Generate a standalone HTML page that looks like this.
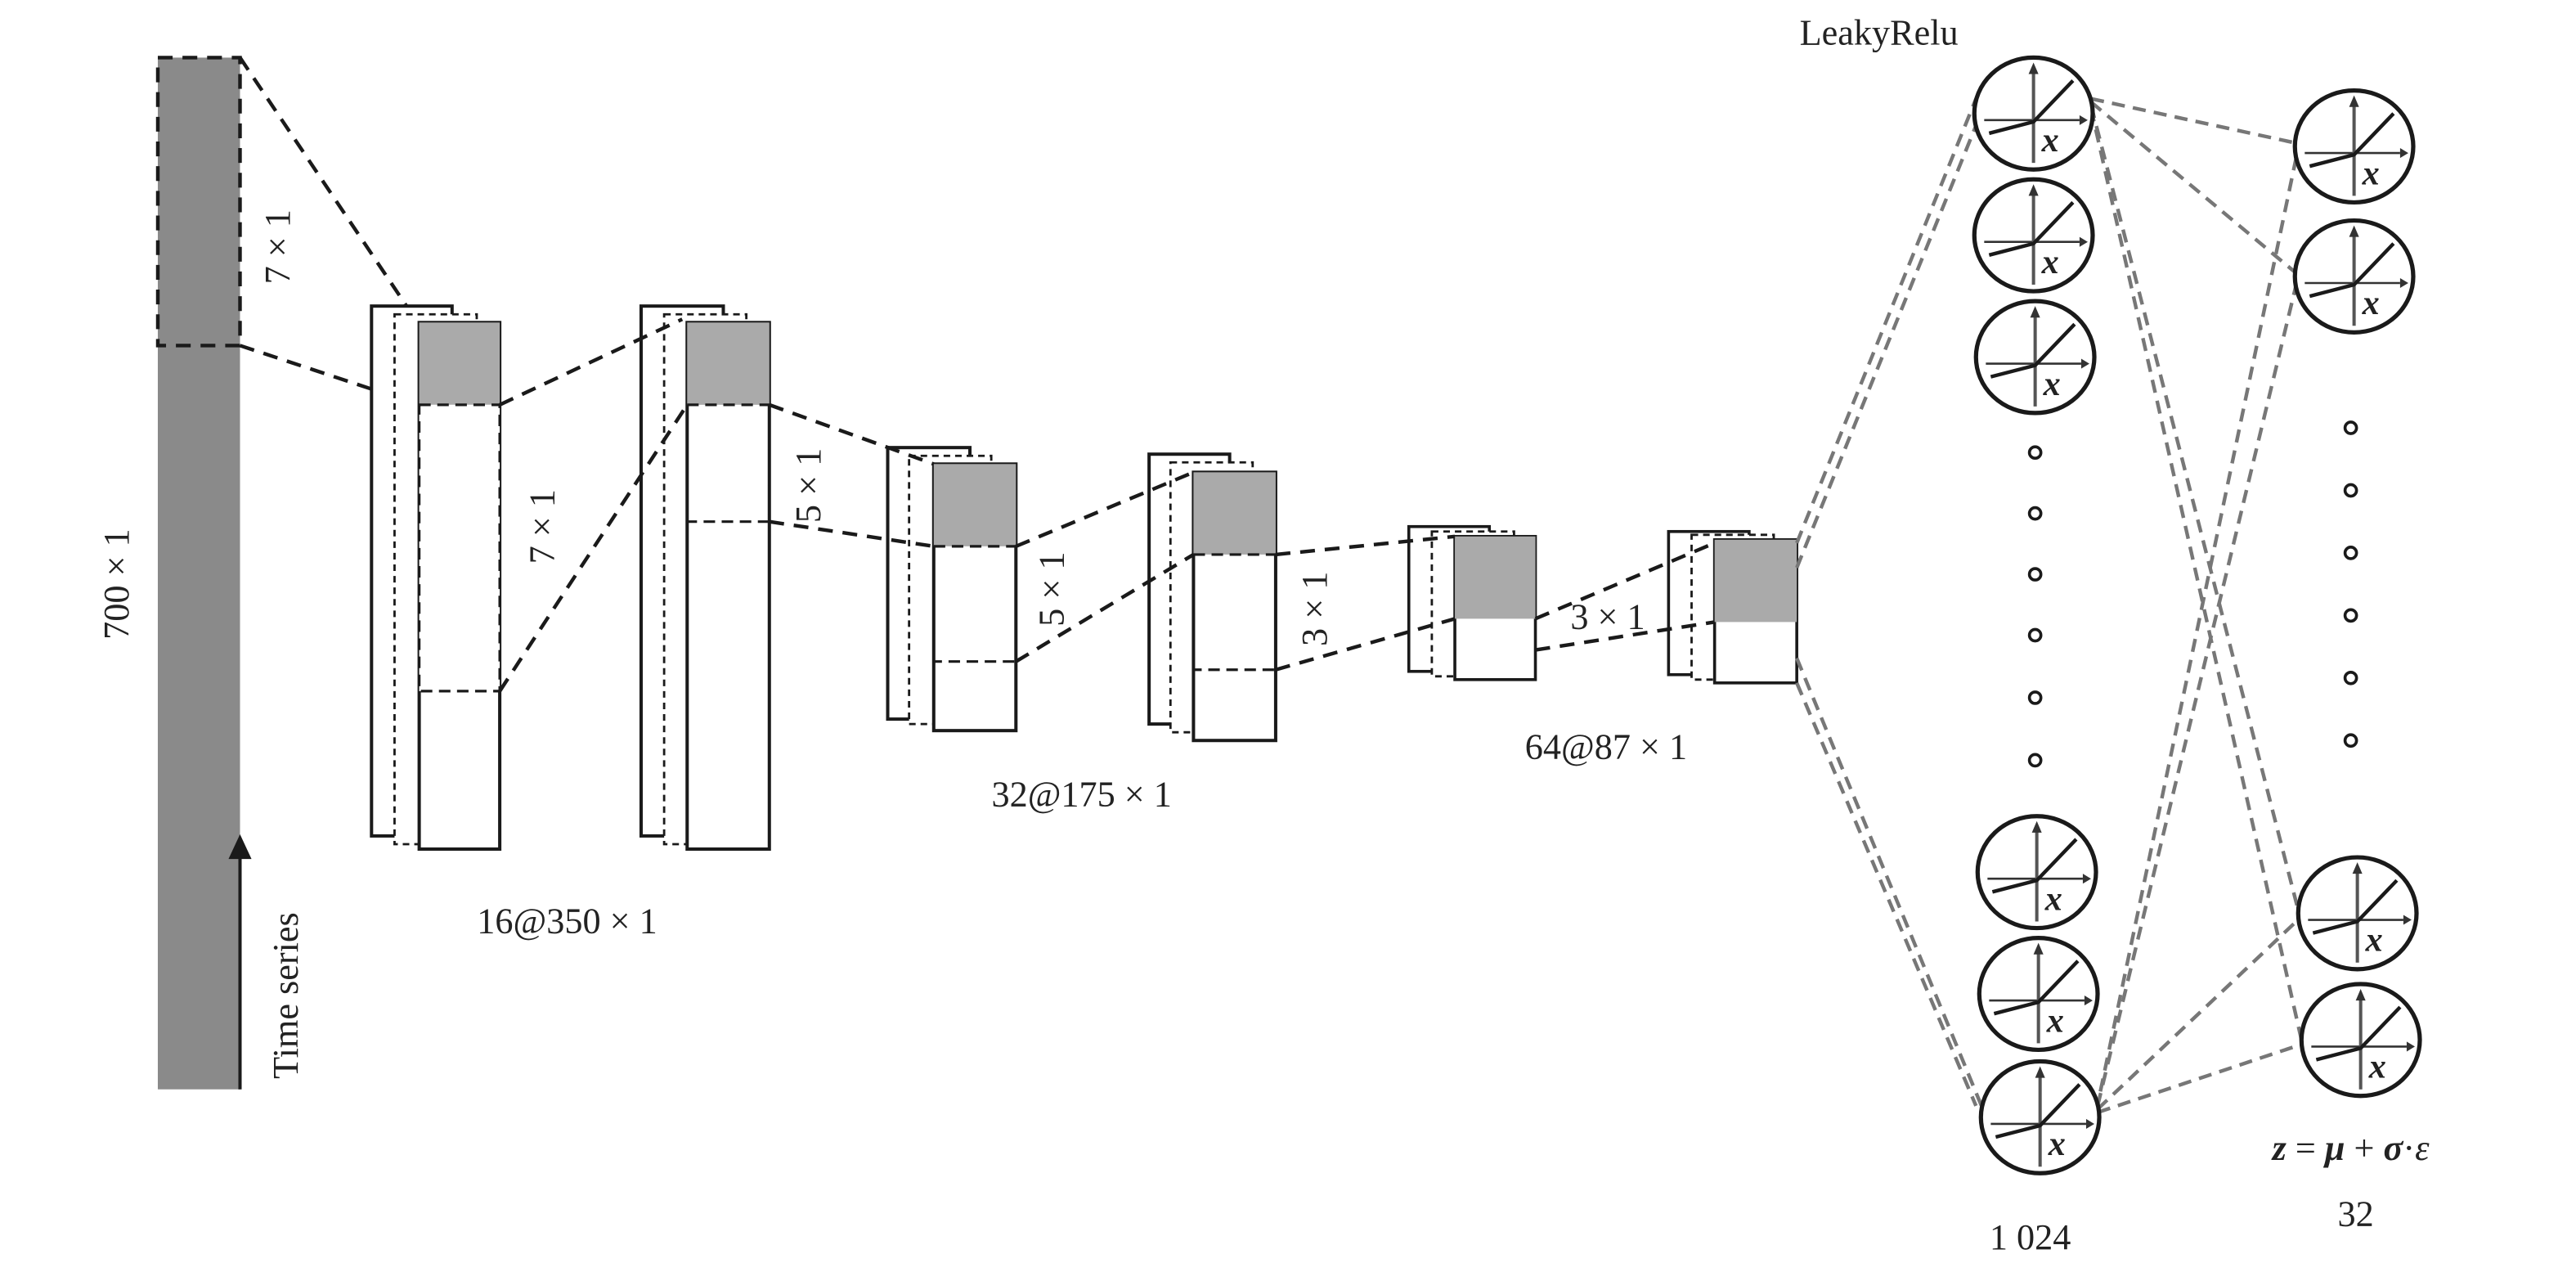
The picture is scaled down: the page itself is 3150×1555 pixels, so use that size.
<!DOCTYPE html>
<html><head><meta charset="utf-8"><style>
html,body{margin:0;padding:0;background:#fff;}
svg{display:block;}
text{font-family:"Liberation Serif",serif;fill:#222;}
</style></head><body>
<svg width="3150" height="1555" viewBox="0 0 1567 773" preserveAspectRatio="none" xmlns="http://www.w3.org/2000/svg">
<defs>
<g id="n">
<ellipse cx="0" cy="0" rx="36" ry="34" fill="#fff" stroke="#1a1a1a" stroke-width="2.6"/>
<line x1="-30" y1="4" x2="28" y2="4" stroke="#333" stroke-width="1.3"/>
<path d="M28,1 L33,4 L28,7 Z" fill="#333"/>
<line x1="0" y1="30" x2="0" y2="-26" stroke="#555" stroke-width="2"/>
<path d="M-3,-24 L0,-31 L3,-24 Z" fill="#333"/>
<polyline points="-27,12 0,5 24,-20" fill="none" stroke="#1a1a1a" stroke-width="2.2"/>
<text x="5" y="23" font-size="21" font-weight="bold" font-style="italic">x</text>
</g>
</defs>
<rect x="96" y="35" width="50" height="627" fill="#8a8a8a"/>
<rect x="96" y="35" width="50" height="175" fill="none" stroke="#1a1a1a" stroke-width="2.2" stroke-dasharray="9,6"/>
<line x1="146" y1="662" x2="146" y2="516" stroke="#1a1a1a" stroke-width="2"/>
<path d="M139,522 L146,507 L153,522 Z" fill="#1a1a1a"/>
<text transform="translate(78,355) rotate(-90)" font-size="22" text-anchor="middle">700 × 1</text>
<text transform="translate(176,150) rotate(-90)" font-size="22" text-anchor="middle">7 × 1</text>
<text transform="translate(181,605) rotate(-90)" font-size="22" text-anchor="middle">Time series</text>

<g fill="none" stroke="#1a1a1a" stroke-width="2.2" stroke-dasharray="9,6">
<line x1="146" y1="35" x2="250" y2="190"/>
<line x1="146" y1="210" x2="255" y2="246"/>
</g>

<rect x="226" y="186" width="49" height="322" fill="#fff" stroke="#1a1a1a" stroke-width="2"/>
<rect x="240" y="191" width="50" height="322" fill="#fff" stroke="#1a1a1a" stroke-width="1.4" stroke-dasharray="4,3"/>
<rect x="255" y="196" width="49" height="320" fill="#fff" stroke="#1a1a1a" stroke-width="2"/>
<rect x="255" y="196" width="49" height="50" fill="#aaa"/>
<rect x="255" y="246" width="49" height="174" fill="#fff" stroke="#1a1a1a" stroke-width="1.6" stroke-dasharray="7,4"/>
<text transform="translate(337,320) rotate(-90)" font-size="22" text-anchor="middle">7 × 1</text>

<rect x="390" y="186" width="50" height="322" fill="#fff" stroke="#1a1a1a" stroke-width="2"/>
<rect x="404" y="191" width="50" height="322" fill="#fff" stroke="#1a1a1a" stroke-width="1.4" stroke-dasharray="4,3"/>
<rect x="418" y="196" width="50" height="320" fill="#fff" stroke="#1a1a1a" stroke-width="2"/>
<rect x="418" y="196" width="50" height="50" fill="#aaa"/>
<rect x="418" y="246" width="50" height="71" fill="none" stroke="#1a1a1a" stroke-width="1.6" stroke-dasharray="7,4"/>
<g fill="none" stroke="#1a1a1a" stroke-width="2.2" stroke-dasharray="9,6">
<line x1="304" y1="246" x2="415" y2="194"/>
<line x1="304" y1="420" x2="418" y2="246"/>
</g>
<text transform="translate(499,295) rotate(-90)" font-size="22" text-anchor="middle">5 × 1</text>

<rect x="540" y="272" width="50" height="165" fill="#fff" stroke="#1a1a1a" stroke-width="2"/>
<rect x="553" y="277" width="50" height="163" fill="#fff" stroke="#1a1a1a" stroke-width="1.4" stroke-dasharray="4,3"/>
<rect x="568" y="282" width="50" height="162" fill="#fff" stroke="#1a1a1a" stroke-width="2"/>
<rect x="568" y="282" width="50" height="50" fill="#aaa"/>
<rect x="568" y="332" width="50" height="70" fill="none" stroke="#1a1a1a" stroke-width="1.6" stroke-dasharray="7,4"/>
<g fill="none" stroke="#1a1a1a" stroke-width="2.2" stroke-dasharray="9,6">
<line x1="468" y1="246" x2="568" y2="282"/>
<line x1="468" y1="317" x2="568" y2="332"/>
</g>
<text transform="translate(647,358) rotate(-90)" font-size="22" text-anchor="middle">5 × 1</text>

<rect x="699" y="276" width="49" height="164" fill="#fff" stroke="#1a1a1a" stroke-width="2"/>
<rect x="712" y="281" width="50" height="164" fill="#fff" stroke="#1a1a1a" stroke-width="1.4" stroke-dasharray="4,3"/>
<rect x="726" y="287" width="50" height="163" fill="#fff" stroke="#1a1a1a" stroke-width="2"/>
<rect x="726" y="287" width="50" height="50" fill="#aaa"/>
<rect x="726" y="337" width="50" height="70" fill="none" stroke="#1a1a1a" stroke-width="1.6" stroke-dasharray="7,4"/>
<g fill="none" stroke="#1a1a1a" stroke-width="2.2" stroke-dasharray="9,6">
<line x1="618" y1="332" x2="726" y2="287"/>
<line x1="618" y1="402" x2="726" y2="337"/>
</g>
<text transform="translate(807,370) rotate(-90)" font-size="22" text-anchor="middle">3 × 1</text>

<rect x="857" y="320" width="49" height="88" fill="#fff" stroke="#1a1a1a" stroke-width="1.8"/>
<rect x="871" y="323" width="50" height="88" fill="#fff" stroke="#1a1a1a" stroke-width="1.4" stroke-dasharray="4,3"/>
<rect x="885" y="326" width="49" height="87" fill="#fff" stroke="#1a1a1a" stroke-width="1.8"/>
<rect x="885" y="326" width="49" height="50" fill="#aaa"/>
<g fill="none" stroke="#1a1a1a" stroke-width="2.2" stroke-dasharray="9,6">
<line x1="776" y1="337" x2="885" y2="326"/>
<line x1="776" y1="407" x2="885" y2="376"/>
</g>
<text x="978" y="382" font-size="22" text-anchor="middle">3 × 1</text>

<rect x="1015" y="323" width="49" height="87" fill="#fff" stroke="#1a1a1a" stroke-width="1.8"/>
<rect x="1029" y="325" width="50" height="88" fill="#fff" stroke="#1a1a1a" stroke-width="1.4" stroke-dasharray="4,3"/>
<rect x="1043" y="328" width="50" height="87" fill="#fff" stroke="#1a1a1a" stroke-width="1.8"/>
<rect x="1043" y="328" width="50" height="50" fill="#aaa"/>
<g fill="none" stroke="#1a1a1a" stroke-width="2.2" stroke-dasharray="9,6">
<line x1="934" y1="376" x2="1043" y2="330"/>
<line x1="934" y1="395" x2="1043" y2="378"/>
</g>

<text x="345" y="567" font-size="22" text-anchor="middle">16@350 × 1</text>
<text x="658" y="490" font-size="22" text-anchor="middle">32@175 × 1</text>
<text x="977" y="461" font-size="22" text-anchor="middle">64@87 × 1</text>

<g fill="none" stroke="#777" stroke-width="2.2" stroke-dasharray="8,5">
<line x1="1093" y1="330" x2="1202" y2="60"/>
<line x1="1093" y1="345" x2="1207" y2="64"/>
<line x1="1093" y1="415" x2="1202" y2="672"/>
<line x1="1093" y1="400" x2="1207" y2="676"/>
<line x1="1272" y1="60" x2="1397" y2="87"/>
<line x1="1272" y1="62" x2="1398" y2="167"/>
<line x1="1272" y1="64" x2="1398" y2="553"/>
<line x1="1272" y1="66" x2="1400" y2="632"/>
<line x1="1275" y1="676" x2="1398" y2="90"/>
<line x1="1276" y1="672" x2="1398" y2="168"/>
<line x1="1276" y1="674" x2="1400" y2="557"/>
<line x1="1276" y1="676" x2="1402" y2="634"/>
</g>

<use href="#n" x="1237" y="69"/>
<use href="#n" x="1237" y="143"/>
<use href="#n" x="1238" y="217"/>
<use href="#n" x="1239" y="530"/>
<use href="#n" x="1240" y="604"/>
<use href="#n" x="1241" y="679"/>
<use href="#n" x="1432" y="89"/>
<use href="#n" x="1432" y="168"/>
<use href="#n" x="1434" y="555"/>
<use href="#n" x="1436" y="632"/>

<g fill="none" stroke="#1a1a1a" stroke-width="1.8">
<circle cx="1238" cy="275" r="3.5"/><circle cx="1238" cy="312" r="3.5"/><circle cx="1238" cy="349" r="3.5"/>
<circle cx="1238" cy="386" r="3.5"/><circle cx="1238" cy="424" r="3.5"/><circle cx="1238" cy="462" r="3.5"/>
<circle cx="1430" cy="260" r="3.5"/><circle cx="1430" cy="298" r="3.5"/><circle cx="1430" cy="336" r="3.5"/>
<circle cx="1430" cy="374" r="3.5"/><circle cx="1430" cy="412" r="3.5"/><circle cx="1430" cy="450" r="3.5"/>
</g>

<text x="1143" y="27" font-size="22" text-anchor="middle">LeakyRelu</text>
<text x="1235" y="759" font-size="22" text-anchor="middle">1 024</text>
<text x="1433" y="745" font-size="22" text-anchor="middle">32</text>
<text x="1430" y="705" font-size="22" text-anchor="middle"><tspan font-style="italic" font-weight="bold">z</tspan> = <tspan font-style="italic" font-weight="bold">μ</tspan> + <tspan font-style="italic" font-weight="bold">σ</tspan>·<tspan font-style="italic">ε</tspan></text>
</svg>
</body></html>
